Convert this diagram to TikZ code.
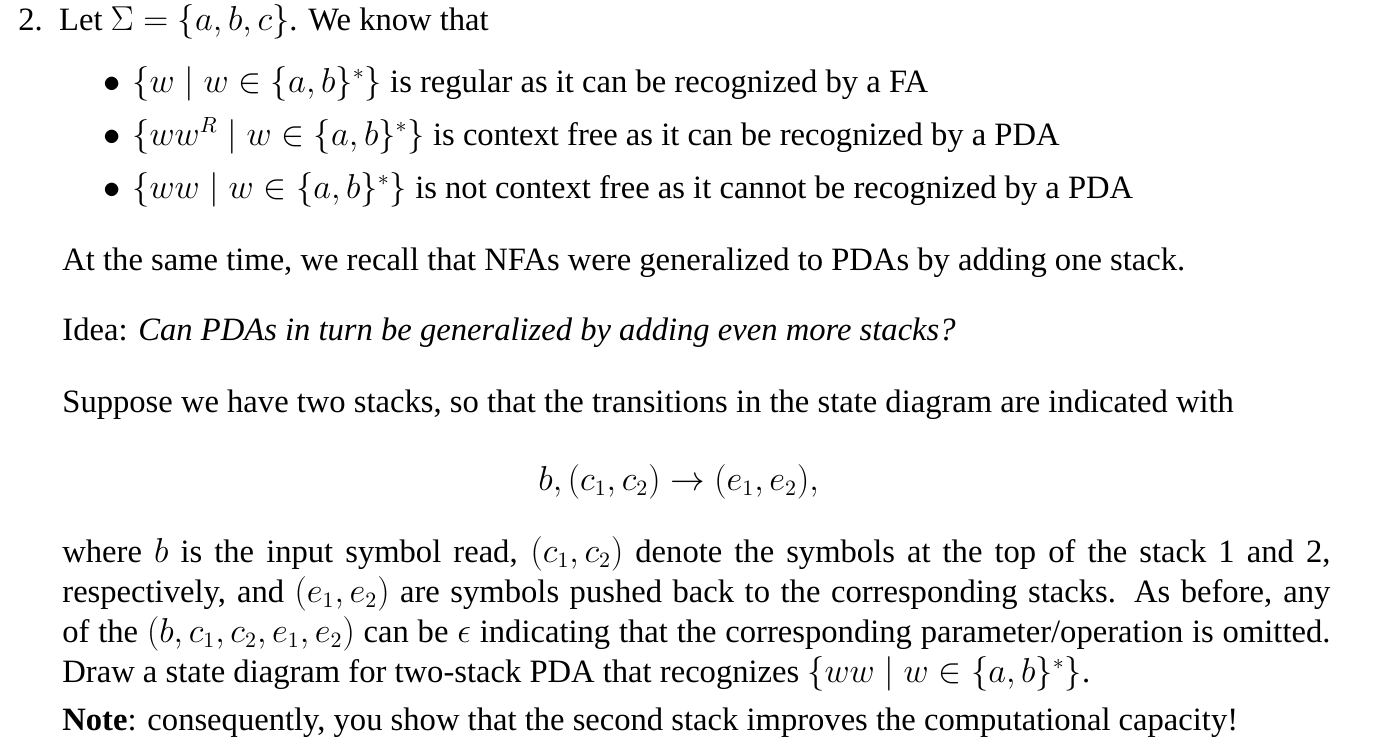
\documentclass[tikz,border=0pt]{standalone}
\usepackage{fontspec}
\setmainfont{Liberation Serif}
\begin{document}
\begin{tikzpicture}[x=0.5pt,y=-0.5pt,
  txt/.style={anchor=base west,inner sep=0pt,font=\fontsize{16.3}{20}\selectfont}]
\useasboundingbox (0,0) rectangle (1398,752);
\node[txt] (l1) at (18,30) {2.\ \ Let $\Sigma=\{a,b,c\}$. We know that};
\node[txt] (b1) at (103,92) {$\bullet$};
\node[txt] (t1) at (132,92) {$\{w\mid w\in\{a,b\}^*\}$ is regular as it can be recognized by a FA};
\node[txt] (b2) at (103,145) {$\bullet$};
\node[txt] (t2) at (132,145) {$\{ww^R\mid w\in\{a,b\}^*\}$ is context free as it can be recognized by a PDA};
\node[txt] (b3) at (103,198) {$\bullet$};
\node[txt] (t3) at (132,198) {$\{ww\mid w\in\{a,b\}^*\}$ is not context free as it cannot be recognized by a PDA};
\node[txt] (p1) at (62,270) {At the same time, we recall that NFAs were generalized to PDAs by adding one stack.};
\node[txt] (p2) at (62,340) {Idea: \textit{Can PDAs in turn be generalized by adding even more stacks?}};
\node[txt] (p3) at (62,412) {Suppose we have two stacks, so that the transitions in the state diagram are indicated with};
\node[txt] (f) at (538,490) {$b,(c_1,c_2)\to(e_1,e_2),$};
\node[txt,anchor=north west,text width=634pt,align=justify] (p4) at (62,536) {where $b$ is the input symbol read, $(c_1,c_2)$ denote the symbols at the top of the stack 1 and 2,\linebreak respectively, and $(e_1,e_2)$ are symbols pushed back to the corresponding stacks. As before, any\linebreak of the $(b,c_1,c_2,e_1,e_2)$ can be $\epsilon$ indicating that the corresponding parameter/operation is omitted.\linebreak Draw a state diagram for two-stack PDA that recognizes $\{ww\mid w\in\{a,b\}^*\}$.\par};
\node[txt] (p5) at (62,730) {\textbf{Note}: consequently, you show that the second stack improves the computational capacity!};
\end{tikzpicture}
\end{document}
